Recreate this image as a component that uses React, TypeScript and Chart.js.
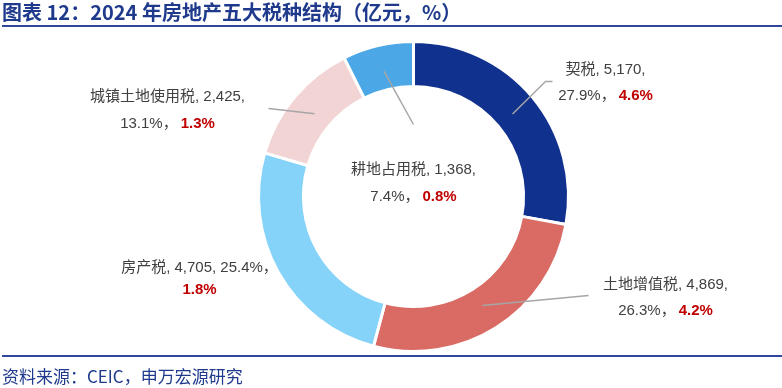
import React, { useEffect, useRef } from "react";
import { Chart, registerables } from "chart.js";

Chart.register(...registerables);

const categories = ["契税", "土地增值税", "房产税", "城镇土地使用税", "耕地占用税"];
const revenue = [5170, 4869, 4705, 2425, 1368];
const structureShare = [27.9, 26.3, 25.4, 13.1, 7.4];
const taxRevenueShare = [4.6, 4.2, 1.8, 1.3, 0.8];
const colors = ["#10318E", "#D96A64", "#86D3F9", "#F2D4D4", "#4BA7E5"];

// label layout: offsets from the doughnut centre
const labelLayout = [
  { path: [[132, -115], [139, -115]], cx: 192, ys: [-127, -101], shareOnFirst: false },
  { path: [[175, 99]], cx: 252, ys: [88, 114], shareOnFirst: false },
  { path: [], cx: -214, ys: [71, 93], shareOnFirst: true },
  { path: [[-145, -88]], cx: -246, ys: [-100, -73], shareOnFirst: false },
  { path: [[0, -72]], cx: 0, ys: [-27, 0], shareOnFirst: false },
];

const FONT = '"Liberation Sans", "Noto Sans CJK SC", sans-serif';

const labelPlugin = {
  id: "donutLabels",
  afterDatasetsDraw(chart: any) {
    const ctx = chart.ctx as CanvasRenderingContext2D;
    const meta = chart.getDatasetMeta(0);
    meta.data.forEach((arc: any, i: number) => {
      const p = arc.getProps(["x", "y", "startAngle", "endAngle", "innerRadius", "outerRadius"], true);
      const mid = (p.startAngle + p.endAngle) / 2;
      const r = p.innerRadius + 0.42 * (p.outerRadius - p.innerRadius);
      const ax = p.x + r * Math.cos(mid);
      const ay = p.y + r * Math.sin(mid);
      const lay = labelLayout[i];
      ctx.save();
      if (lay.path.length) {
        ctx.strokeStyle = "#A6A6A6";
        ctx.lineWidth = 1.5;
        ctx.beginPath();
        ctx.moveTo(ax, ay);
        lay.path.forEach((pt) => ctx.lineTo(p.x + pt[0], p.y + pt[1]));
        ctx.stroke();
      }
      const name = categories[i];
      const val = revenue[i].toLocaleString("en-US");
      const share = structureShare[i].toFixed(1) + "%，";
      const red = taxRevenueShare[i].toFixed(1) + "%";
      const grayFont = "15px " + FONT;
      const redFont = "bold 15px " + FONT;
      const line1 = lay.shareOnFirst ? `${name}, ${val}, ${share}` : `${name}, ${val},`;
      const line2Gray = lay.shareOnFirst ? "" : share;
      ctx.textBaseline = "middle";
      ctx.textAlign = "left";
      ctx.font = grayFont;
      ctx.fillStyle = "#404040";
      const w1 = ctx.measureText(line1).width;
      ctx.fillText(line1, p.x + lay.cx - w1 / 2, p.y + lay.ys[0]);
      const wg = line2Gray ? ctx.measureText(line2Gray).width : 0;
      ctx.font = redFont;
      const wr = ctx.measureText(red).width;
      const gap = line2Gray ? 3 : 0;
      const start = p.x + lay.cx - (wg + gap + wr) / 2;
      if (line2Gray) {
        ctx.font = grayFont;
        ctx.fillStyle = "#404040";
        ctx.fillText(line2Gray, start, p.y + lay.ys[1]);
      }
      ctx.font = redFont;
      ctx.fillStyle = "#C00000";
      ctx.fillText(red, start + wg + gap, p.y + lay.ys[1]);
      ctx.restore();
    });
  },
};

export default function App() {
  const ref = useRef<HTMLCanvasElement>(null);
  useEffect(() => {
    document.body.style.margin = "0";
    const chart = new Chart(ref.current!, {
      type: "doughnut",
      data: {
        labels: categories,
        datasets: [
          {
            data: revenue,
            backgroundColor: colors,
            borderColor: "#FFFFFF",
            borderWidth: 3,
          },
        ],
      },
      options: {
        responsive: false,
        animation: false,
        cutout: "71%",
        layout: { padding: { top: 40, bottom: 35, left: 257, right: 212 } },
        plugins: { legend: { display: false }, tooltip: { enabled: false } },
      },
      plugins: [labelPlugin],
    });
    return () => chart.destroy();
  }, []);
  return (
    <div style={{ position: "relative", width: 782, height: 388, background: "#fff", overflow: "hidden" }}>
      <canvas ref={ref} width={782} height={388} style={{ position: "absolute", left: 0, top: 0 }} />
      <div
        style={{
          position: "absolute",
          left: 2,
          top: 0,
          fontFamily: '"Noto Sans CJK SC", sans-serif',
          fontWeight: 700,
          fontSize: 20,
          lineHeight: "23px",
          color: "#1F3A8C",
          whiteSpace: "nowrap",
        }}
      >
        图表 12：2024 年房地产五大税种结构（亿元，%）
      </div>
      <div style={{ position: "absolute", left: 2, right: 0, top: 25, height: 2, background: "#2C479C" }} />
      <div style={{ position: "absolute", left: 2, right: 0, top: 355, height: 2, background: "#2C479C" }} />
      <div
        style={{
          position: "absolute",
          left: 2,
          top: 365,
          fontFamily: '"Noto Sans CJK SC", sans-serif',
          fontSize: 17,
          lineHeight: "22px",
          color: "#1F3A8C",
          whiteSpace: "nowrap",
        }}
      >
        资料来源：CEIC，申万宏源研究
      </div>
    </div>
  );
}
